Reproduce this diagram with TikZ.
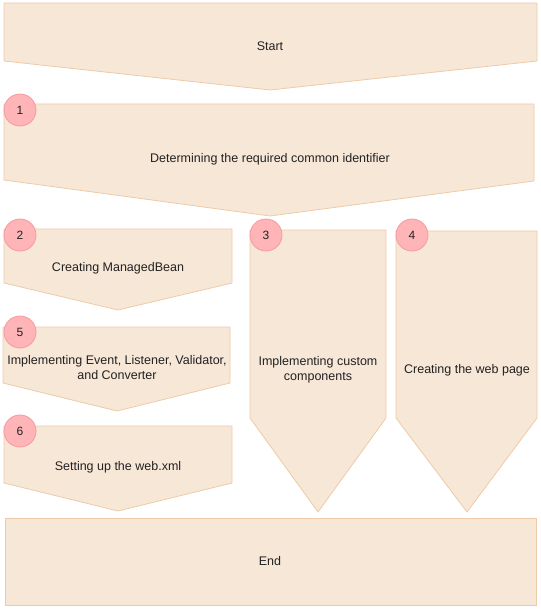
\documentclass[tikz,border=0pt]{standalone}
\usepackage{fontspec}
\setmainfont{Liberation Sans}
\definecolor{boxfill}{HTML}{F7E7D7}
\definecolor{boxline}{HTML}{EDCBA9}
\definecolor{numfill}{HTML}{FFB4B8}
\definecolor{numline}{HTML}{F59A9E}
\definecolor{txt}{HTML}{222222}
\tikzset{
  pent/.style={fill=boxfill,draw=boxline,line width=0.8pt,line join=miter},
  num/.style={circle,fill=numfill,draw=numline,line width=0.8pt,minimum size=32pt,inner sep=0pt,font=\fontsize{12}{14}\selectfont,text=txt},
  lbl/.style={align=center,font=\fontsize{12.5}{15}\selectfont,text=txt,inner sep=0pt}
}
\begin{document}
\begin{tikzpicture}[x=1pt,y=-1pt]
\useasboundingbox (0,0) rectangle (540,609);
% Start
\draw[pent] (4,3) -- (537,3) -- (537,61) -- (270,90) -- (4,61) -- cycle;
\node[lbl] (start) at (270,46) {Start};
% 1
\draw[pent] (4,104) -- (534,104) -- (534,181) -- (270,216) -- (4,180) -- cycle;
\node[lbl] (s1) at (270,159) {Determining the required common identifier};
\node[num] (n1) at (20,110) {1};
% 2
\draw[pent] (4,229) -- (232,229) -- (232,283) -- (118,310) -- (4,283) -- cycle;
\node[lbl] (s2) at (118,268) {Creating ManagedBean};
\node[num] (n2) at (20,235) {2};
% 5
\draw[pent] (3,327) -- (230,327) -- (230,383) -- (117,411) -- (3,383) -- cycle;
\node[lbl] (s5) at (117,368) {Implementing Event, Listener, Validator,\\and Converter};
\node[num] (n5) at (20,332) {5};
% 6
\draw[pent] (4,426) -- (232,426) -- (232,483) -- (118,511) -- (4,483) -- cycle;
\node[lbl] (s6) at (118,467) {Setting up the web.xml};
\node[num] (n6) at (20,431) {6};
% 3
\draw[pent] (250,230) -- (386,230) -- (386,418) -- (318,512) -- (250,418) -- cycle;
\node[lbl] (s3) at (318,370) {Implementing custom\\components};
\node[num] (n3) at (266,235) {3};
% 4
\draw[pent] (396,231) -- (537,231) -- (537,418) -- (467,512) -- (396,418) -- cycle;
\node[lbl] (s4) at (467,370) {Creating the web page};
\node[num] (n4) at (412,235) {4};
% End
\draw[pent] (5,518) rectangle (536,605);
\node[lbl] (e) at (270,561) {End};
\end{tikzpicture}
\end{document}
